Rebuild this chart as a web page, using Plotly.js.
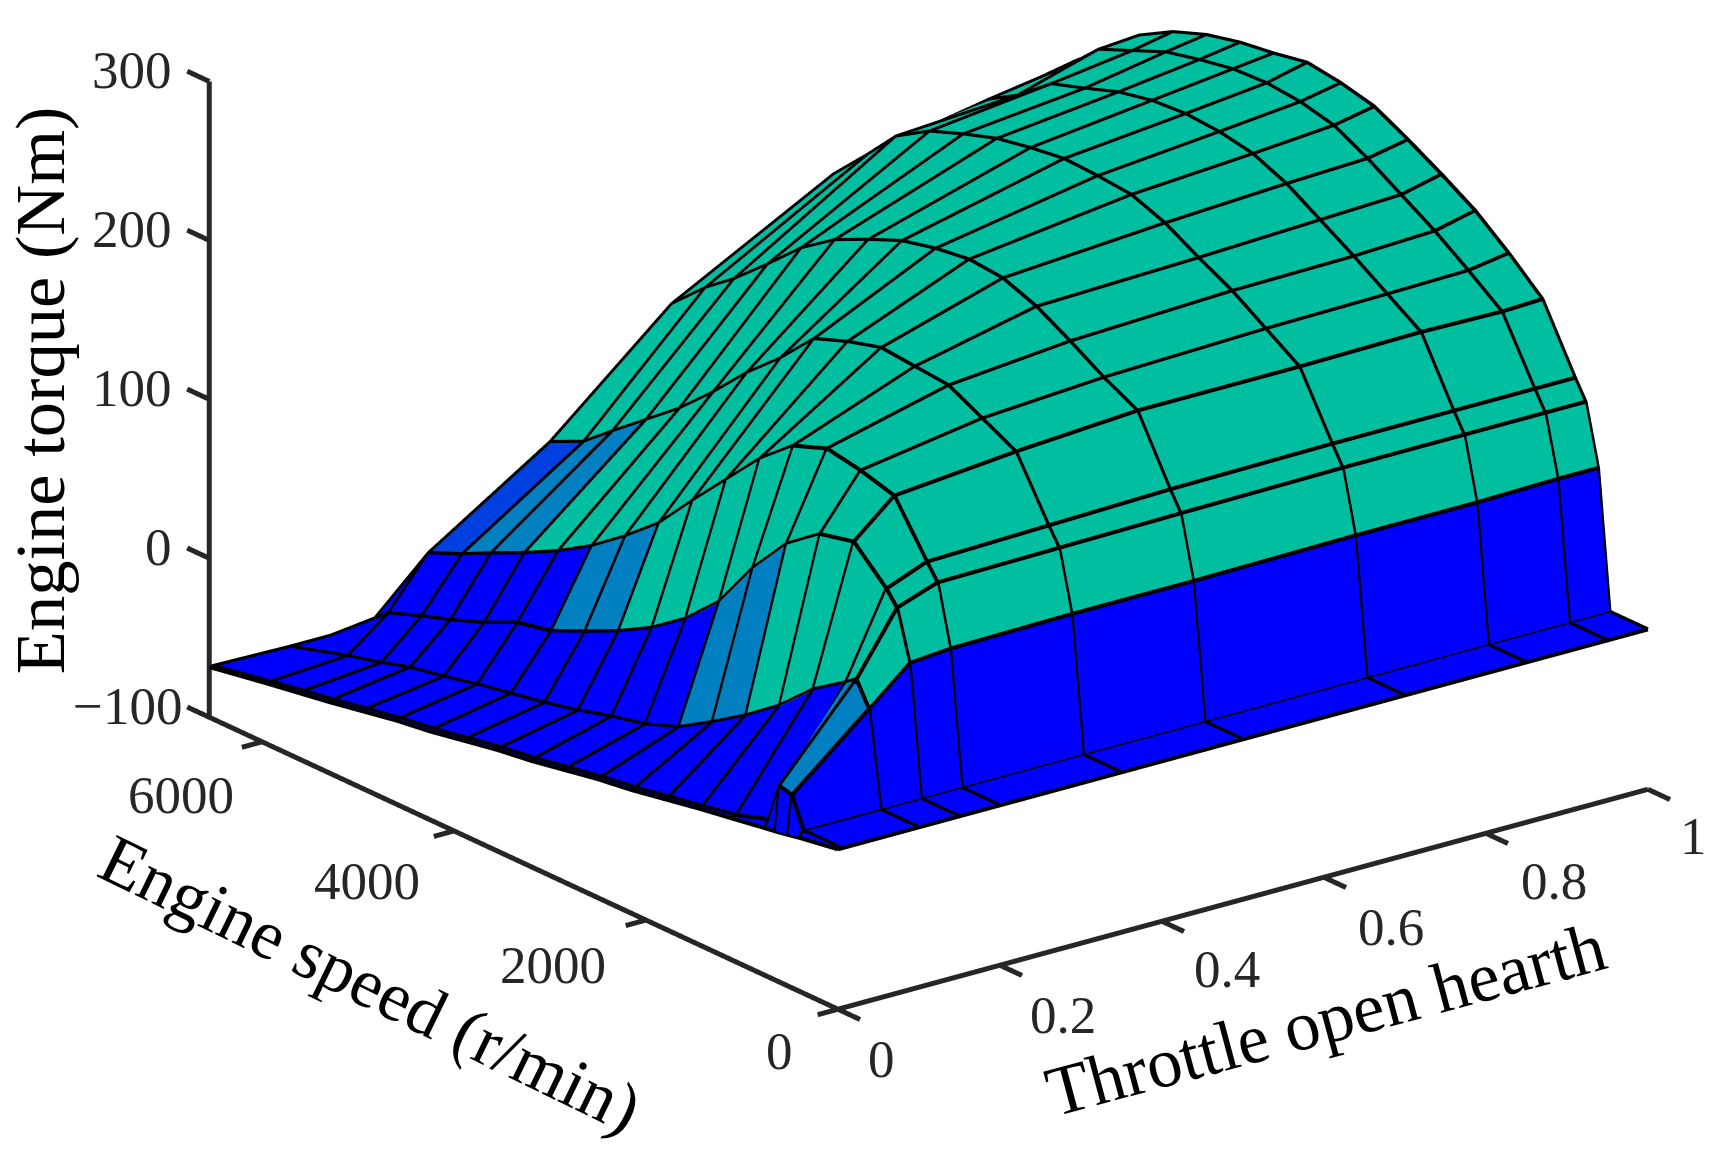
<!DOCTYPE html>
<html><head><meta charset="utf-8">
<script src="https://cdn.plot.ly/plotly-3.0.1.min.js"></script>
<style>html,body{margin:0;padding:0;background:#fff}#c{width:1728px;height:1164px}</style>
</head><body><div id="c"></div>
<script>
const throttle=[0,0.005,0.1,0.15,0.2,0.35,0.5,0.7,0.85,0.95,1];
const speed=[0,400,520,650,760,1100,1450,1800,2150,2500,2850,3200,3550,3900,4250,4600,4950,5300,5600,5950,6550];
const torqueT000=[0,-4,-5.5,-7,-8,-11.5,-15,-19,-23,-26,-30,-34,-37,-41,-45,-48,-52,-56,-59,-62.5,-69];
const torqueT001=[0,0,19,21,-3,-10,-14,-18,-22,-25,-29,-33,-36,-40,-44,-47,-51,-55,-58,-62,-69];
const torqueT010=[0,0,60,75,70,56,36,20,6,-7,-15,-20,-26,-31,-35,-39,-44,-48,-53.5,-59,-70];
const torqueT015=[0,0,82,113,122,142,137,121,96,65,44.5,29,17,7,-2.5,-7,-17,-25,-31,-39,-70];
const torqueT020=[0,0,84,122,132,164,170,174,166,148,125,102,78,60,44,31,20,10,1,-8,-69];
const torqueT035=[0,0,85,123,134,171,182,193,195,197,191,183,161,142,120,100,83,66,51,41,-30];
const torqueT050=[0,0,85,124,136,176,187,200,212,220,222,219,214,205,195,180,160,141,127,107,20];
const torqueT070=[0,0,86,125,137,176,190,204,215,227,235,237,238,235,231,224,216,203,183,161,70];
const torqueT085=[0,0,86,125,137,177,191,205,218,231,240,244,245.5,244,239.5,232,225,208,197,176,100];
const torqueT095=[0,0,87,125,137,176,192,207,220,233,244,249,251,250,246,241,232,223,205,186,110];
const torqueT100=[0,0,87,125,137,177,196,213,226,238,249,254,257,253,250,245,237,225,209,191,120];
const columns=[torqueT000,torqueT001,torqueT010,torqueT015,torqueT020,torqueT035,torqueT050,torqueT070,torqueT085,torqueT095,torqueT100];
const throttleTicks=[0,0.2,0.4,0.6,0.8,1];
const throttleLabels=['0','0.2','0.4','0.6','0.8','1'];
const speedTicks=[0,2000,4000,6000];
const speedLabels=['0','2000','4000','6000'];
const torqueTicks=[-100,0,100,200,300];
const torqueLabels=['\u2212100','0','100','200','300'];
const tMax=1,sMax=6550,zMin=-100,zMax=300;

const nT=throttle.length,nS=speed.length;
const X=[],Y=[],Z=[],I=[],J=[],K=[],FC=[];
for(let t=0;t<nT;t++)for(let s=0;s<nS;s++){X.push(throttle[t]);Y.push(speed[s]);Z.push(columns[t][s]);}
function cellColor(v){ if(v<0.5)return '#0000ff'; if(v<5)return '#0040e0'; if(v<25)return '#0080c0'; return '#00bfa0'; }
for(let t=0;t<nT-1;t++)for(let s=0;s<nS-1;s++){
  const a=t*nS+s,b=(t+1)*nS+s,c=(t+1)*nS+s+1,d=t*nS+s+1;
  const col=cellColor(columns[t][s]);
  I.push(a,a);J.push(b,c);K.push(c,d);FC.push(col,col);
}
const lx=[],ly=[],lz=[];
const lift=0.6;
function brk(ax,ay,az){ax.push(null);ay.push(null);az.push(null);}
for(let t=0;t<nT;t++){for(let s=0;s<nS;s++){lx.push(throttle[t]);ly.push(speed[s]);lz.push(columns[t][s]+lift);}brk(lx,ly,lz);}
for(let s=0;s<nS;s++){for(let t=0;t<nT;t++){lx.push(throttle[t]);ly.push(speed[s]);lz.push(columns[t][s]+lift);}brk(lx,ly,lz);}

const ax=[],ay=[],az=[];
function seg(x0,y0,z0,x1,y1,z1){ax.push(x0,x1);ay.push(y0,y1);az.push(z0,z1);brk(ax,ay,az);}
seg(0,0,zMin,tMax,0,zMin);seg(0,0,zMin,0,sMax,zMin);seg(0,sMax,zMin,0,sMax,zMax);
const tLenS=230,tLenT=0.025;
throttleTicks.forEach(v=>seg(v,0,zMin,v,-tLenS,zMin));
speedTicks.forEach(v=>seg(0,v,zMin,-tLenT,v,zMin));
torqueTicks.forEach(v=>seg(0,sMax,v,0,sMax+tLenS,v));

const serif='"Liberation Serif","Times New Roman",serif';
const ann=[];
function label(x,y,z,text,dx,dy,size,color,angle,xa){ann.push({x,y,z,text,showarrow:false,xanchor:xa||'center',yanchor:'middle',
  xshift:dx,yshift:-dy,textangle:angle||0,font:{family:serif,size,color}});}
const tx=[[44,50],[63,50],[65,48],[67,50],[68,48],[46,47]];
throttleTicks.forEach((v,i)=>label(v,0,zMin,throttleLabels[i],tx[i][0],tx[i][1],53,'#262626'));
const sx=[[-58,42],[-93,45],[-87,50],[-81,53]];
speedTicks.forEach((v,i)=>label(0,v,zMin,speedLabels[i],sx[i][0],sx[i][1],53,'#262626'));
torqueTicks.forEach((v,i)=>label(0,sMax,v,torqueLabels[i],v===zMin?-25:-35,-11,53,'#262626',0,'right'));
label(0,sMax,106,'Engine torque (Nm)',-169,0,70.5,'#000',-90);
label(0,4000,zMin,'Engine speed (r/min)',-84,153,70,'#000',26);
label(0.6,0,zMin,'Throttle open hearth',2,142,70.5,'#000',-15);

function axis(range){return {range:range,autorange:false,visible:false,showspikes:false};}
const a=37.4*Math.PI/180,el=20.8*Math.PI/180,dist=4;
const dir=[-Math.sin(a)*Math.cos(el),-Math.cos(a)*Math.cos(el),Math.sin(el)];
const center={x:-0.1425,y:-0.0036,z:-0.2355};
const layout={
  width:1728,height:1164,margin:{l:0,r:0,t:0,b:0},paper_bgcolor:'#fff',showlegend:false,
  scene:{domain:{x:[0,1],y:[0,1]},bgcolor:'#fff',aspectmode:'manual',aspectratio:{x:1.857,y:1.914,z:1.227},
    camera:{projection:{type:'orthographic'},up:{x:0,y:0,z:1},center:center,
      eye:{x:center.x+dist*dir[0],y:center.y+dist*dir[1],z:center.z+dist*dir[2]}},
    xaxis:axis([-0.03,1.03]),yaxis:axis([-250,6800]),zaxis:axis([-110,310]),annotations:ann}
};
Plotly.newPlot('c',[
 {type:'mesh3d',x:X,y:Y,z:Z,i:I,j:J,k:K,facecolor:FC,flatshading:true,hoverinfo:'skip',
  lighting:{ambient:1,diffuse:0,specular:0,roughness:1,fresnel:0},showscale:false},
 {type:'scatter3d',mode:'lines',x:lx,y:ly,z:lz,connectgaps:false,line:{color:'#000',width:8},hoverinfo:'skip',showlegend:false},
 {type:'scatter3d',mode:'lines',x:ax,y:ay,z:az,connectgaps:false,line:{color:'#262626',width:10},hoverinfo:'skip',showlegend:false}
],layout,{displayModeBar:false});
</script></body></html>
